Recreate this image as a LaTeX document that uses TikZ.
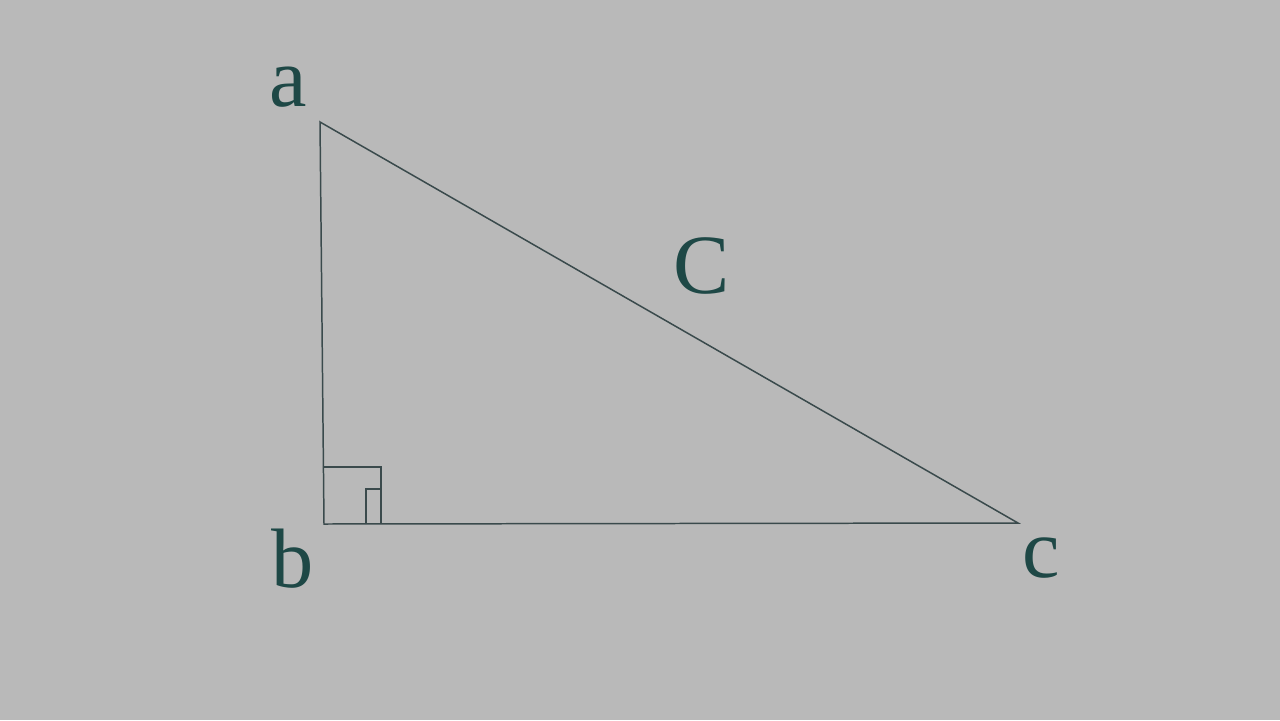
\documentclass[tikz,border=0pt]{standalone}
\usepackage{fontspec}
\setmainfont{Liberation Serif}
\definecolor{bg}{HTML}{B9B9B9}
\definecolor{ln}{HTML}{3A4A4C}
\definecolor{tx}{HTML}{1E4846}
\begin{document}
\begin{tikzpicture}[x=0.02cm,y=-0.02cm,
  edge/.style={draw=ln,line width=0.85pt,line join=miter},
  lbl/.style={text=tx,inner sep=0pt,font=\fontsize{48}{48}\selectfont},
  biglbl/.style={text=tx,inner sep=0pt,font=\fontsize{48}{48}\selectfont}]
\fill[bg] (0,0) rectangle (1280,720);
\useasboundingbox (0,0) rectangle (1280,720);
\coordinate (A) at (320,122);
\coordinate (B) at (324,524);
\coordinate (Cc) at (1018,523);
\draw[edge] (A) -- (B) -- (Cc) -- cycle;
\coordinate (s1) at (324,467);
\coordinate (s2) at (381,467);
\coordinate (s3) at (381,524);
\draw[edge] (s1) -- (s2) -- (s3);
\coordinate (r1) at (366,524);
\coordinate (r2) at (366,489);
\coordinate (r3) at (381,489);
\draw[edge] (r1) -- (r2) -- (r3);
\node[lbl] (la) at (288,87) {a};
\node[lbl] (lb) at (293,559) {b};
\node[lbl] (lc) at (1041,558) {c};
\node[biglbl] (lC) at (702,266) {C};
\end{tikzpicture}
\end{document}
